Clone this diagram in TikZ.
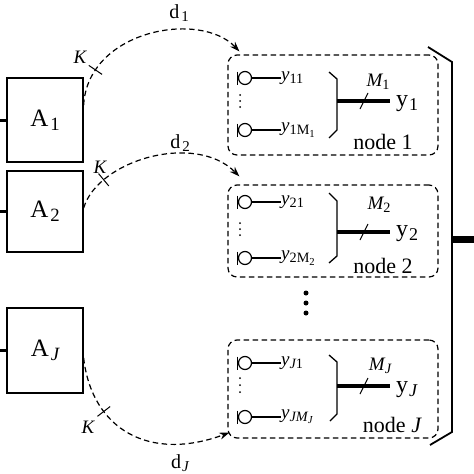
\documentclass[tikz,border=0pt]{standalone}
\usepackage{fontspec}
\setmainfont{Liberation Serif}
\usetikzlibrary{arrows.meta}
\newcommand\Sb[1]{\raisebox{-0.35ex}{\scalebox{0.75}{#1}}}
\newcommand\Fs[1]{\fontsize{#1}{#1}\selectfont}
\begin{document}
\begin{tikzpicture}[x=1pt,y=-1pt,
  abox/.style={draw, line width=1.3pt, minimum width=76pt, inner sep=0, font=\Fs{25}},
  nbox/.style={draw, dash pattern=on 5.5pt off 3.5pt, rounded corners=9pt, line width=1.2pt, minimum width=210pt, inner sep=0},
  mic/.style={circle, draw, line width=1.2pt, minimum size=13pt, inner sep=0},
  wire/.style={line width=1.1pt},
  bus/.style={line width=3.5pt},
  brk/.style={line width=1.3pt},
  lbl/.style={inner sep=0, font=\Fs{19}},
  mlbl/.style={inner sep=0, font=\Fs{19}},
  ylbl/.style={inner sep=0, font=\Fs{24}},
  nlbl/.style={inner sep=0, font=\Fs{22}},
  dlbl/.style={inner sep=0, font=\Fs{20}},
  klbl/.style={inner sep=0, font=\Fs{19}\itshape},
  arc/.style={dash pattern=on 5.5pt off 3.5pt, line width=1.2pt, -{Stealth[length=10pt,width=7pt]}},
  tick/.style={sloped, inner sep=0}
]
\useasboundingbox (0,0) rectangle (474,474);

% source boxes
\node[abox, minimum height=84pt] (A1) at (45,120) {A\hspace{2pt}\Sb{1}};
\node[abox, minimum height=81pt] (A2) at (45,211.5) {A\hspace{2pt}\Sb{2}};
\node[abox, minimum height=85pt] (AJ) at (45,350.5) {A\hspace{2pt}\Sb{\itshape J}};
\foreach \a in {A1,A2,AJ} \draw[line width=3pt] (\a.west) -- ++(-7,0);

% node boxes
\node[nbox, minimum height=100pt] (N1) at (333,105) {};
\node[nbox, minimum height=92pt] (N2) at (333,231) {};
\node[nbox, minimum height=98pt] (NJ) at (333,389) {};

% node 1
\node[mic] (c11) at (245,78) {};
\node[mic] (c12) at (245,130) {};
\node[lbl, anchor=west] (l11) at (281,78) {\itshape y\Sb{\upshape 11}};
\node[lbl, anchor=west] (l12) at (281,130) {\itshape y\Sb{\upshape 1M\Sb{1}}};
\draw[brk] (329,72) -- (337,79) -- (337,130) -- (329,138);
\coordinate (b1) at (337,101);
\node[ylbl, anchor=west] (y1) at (396,104) {y\hspace{1pt}\Sb{1}};
\node[mlbl] (M1) at (378,82) {\itshape M\Sb{\upshape 1}};
\node[nlbl] (n1) at (383,142) {node 1};
\draw[bus] (b1) -- (390,101);
\draw[wire] (360,109) -- (368,93);

% node 2
\node[mic] (c21) at (245,202) {};
\node[mic] (c22) at (245,258) {};
\node[lbl, anchor=west] (l21) at (281,202) {\itshape y\Sb{\upshape 21}};
\node[lbl, anchor=west] (l22) at (281,258) {\itshape y\Sb{\upshape 2M\Sb{2}}};
\draw[brk] (329,193) -- (337,201) -- (337,256) -- (329,263);
\coordinate (b2) at (337,232);
\node[ylbl, anchor=west] (y2) at (396,234) {y\hspace{1pt}\Sb{2}};
\node[mlbl] (M2) at (379,205) {\itshape M\Sb{\upshape 2}};
\node[nlbl] (n2) at (383,266) {node 2};
\draw[bus] (b2) -- (390,232);
\draw[wire] (360,240) -- (368,224);

% node J
\node[mic] (cJ1) at (245,363) {};
\node[mic] (cJ2) at (245,417) {};
\node[lbl, anchor=west] (lJ1) at (281,363) {\itshape y\Sb{J\upshape 1}};
\node[lbl, anchor=west] (lJ2) at (281,417) {\itshape y\Sb{JM\Sb{J}}};
\draw[brk] (329,355) -- (337,362) -- (337,414) -- (330,421);
\coordinate (bJ) at (337,386);
\node[ylbl, anchor=west] (yJ) at (396,390) {y\hspace{1pt}\Sb{\itshape J}};
\node[mlbl] (MJ) at (380,366) {\itshape M\Sb{J}};
\node[nlbl] (nJ) at (392,425) {node \itshape J};
\draw[bus] (bJ) -- (390,386);
\draw[wire] (360,394) -- (368,378);

% microphone tangents and wires
\foreach \c/\l in {c11/l11,c12/l12,c21/l21,c22/l22,cJ1/lJ1,cJ2/lJ2}{
  \draw[wire] ([yshift=6.5pt]\c.west) -- ([yshift=-6.5pt]\c.west);
  \draw[wire] (\c.east) -- (\l.west);
}

% small vertical dots inside nodes
\foreach \y in {95,101,107,223,229,235,378,385,392} \fill (240,\y) circle (1pt);

% big dots between nodes
\foreach \y in {293,303,313} \fill (306,\y) circle (2.5pt);

% output bracket
\coordinate (out) at (474,239);
\draw[line width=1.8pt] (428,47) -- (452,62) -- (452,432) -- (430,445);
\draw[line width=7pt] (452,239) -- (out);

% dashed arcs
\draw[arc] ([yshift=15pt]A1.east) .. controls (88,30) and (200,10) .. ([xshift=12pt,yshift=3pt]N1.north west)
  node[tick, pos=0.18] {\rule[-8pt]{1pt}{16pt}};
\draw[arc] ([yshift=3.5pt]A2.east) .. controls (98,160) and (195,132) .. ([xshift=12pt,yshift=8pt]N2.north west)
  node[tick, pos=0.22] {\rule[-8pt]{1pt}{16pt}};
\draw[arc] ([yshift=-7.5pt]AJ.east) .. controls (92,430) and (150,462) .. ([xshift=2pt,yshift=6pt]NJ.south west)
  node[tick, pos=0.3] {\rule[-8pt]{1pt}{16pt}};

\node[dlbl] (d1) at (179,13) {d\hspace{2pt}\Sb{1}};
\node[dlbl] (d2) at (180,143) {d\hspace{2pt}\Sb{2}};
\node[dlbl] (dJ) at (180,463) {d\hspace{1pt}\Sb{\itshape J}};
\node[klbl] (k1) at (80,57) {K};
\node[klbl] (k2) at (100,167) {K};
\node[klbl] (kJ) at (88,427) {K};
\end{tikzpicture}
\end{document}
